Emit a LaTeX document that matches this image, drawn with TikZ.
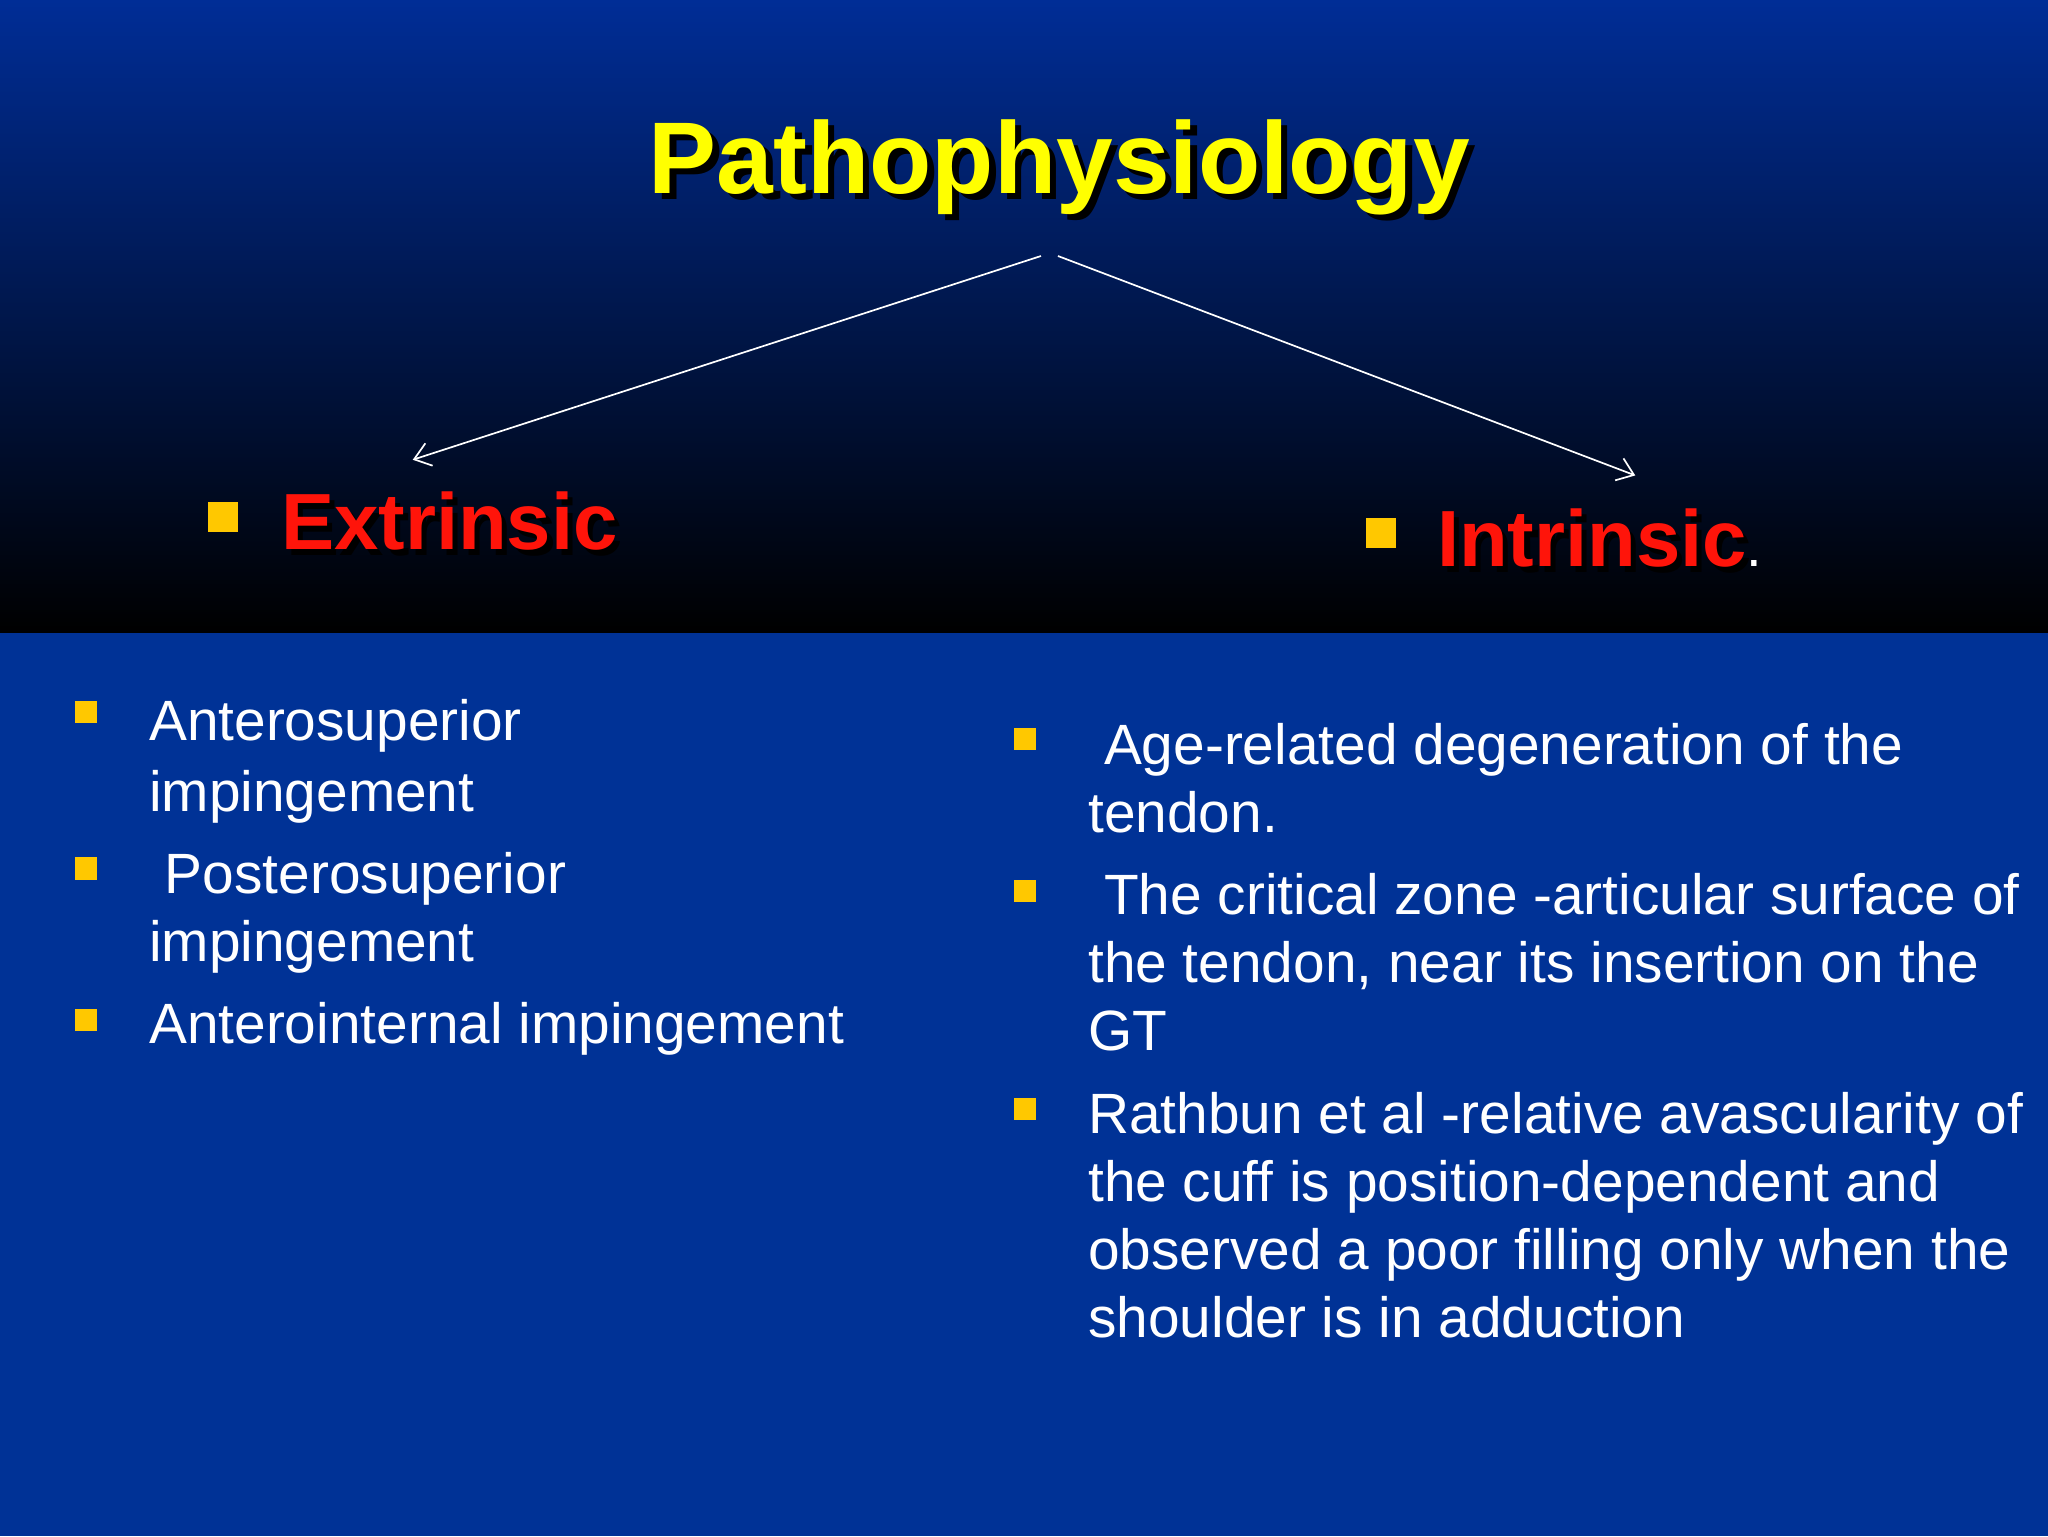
\documentclass[tikz,border=0pt]{standalone}
\usepackage{fontspec}
\setmainfont{Liberation Sans}
\usetikzlibrary{arrows.meta}
\definecolor{topblue}{RGB}{0,45,150}
\definecolor{botblue}{RGB}{0,50,150}
\definecolor{bul}{RGB}{255,200,0}
\definecolor{ttl}{RGB}{255,255,0}
\definecolor{hd}{RGB}{255,20,10}
\begin{document}
\begin{tikzpicture}[x=1pt,y=-1pt,
  body/.style={anchor=base west,text=white,font=\fontsize{43.5}{50}\selectfont,inner sep=0},
  bsq/.style={fill=bul,minimum size=17,inner sep=0},
  bsqb/.style={fill=bul,minimum size=23,inner sep=0},
  head/.style={anchor=base west,inner sep=0,font=\bfseries\fontsize{61}{66}\selectfont},
  arr/.style={white,line width=1.3pt,-{Straight Barb[length=12pt,width=18pt]}}]
\useasboundingbox (0,0) rectangle (1568,1176);
\fill[botblue] (0,0) rectangle (1568,1176);
\shade[top color=topblue,bottom color=black] (0,0) rectangle (1568,484);
\node[text=black,font=\bfseries\fontsize{78}{90}\selectfont,inner sep=0] (ts) at (816,133) {Pathophysiology};
\node[text=ttl,font=\bfseries\fontsize{78}{90}\selectfont,inner sep=0] (title) at (811,128) {Pathophysiology};
\coordinate (al) at (797,196);
\coordinate (ar) at (810,196);
\node[bsqb] (b1) at (171,396) {};
\node[head,text=black] (exts) at (219,425) {Extrinsic};
\node[head,text=hd] (ext) at (215,421) {Extrinsic};
\node[bsqb] (b2) at (1057,408) {};
\node[head,text=black] (ints) at (1104,438) {Intrinsic};
\node[head,text=hd] (int) at (1100,434) {Intrinsic\textcolor{white}{\mdseries\fontsize{43}{43}\selectfont.}};
\coordinate (el) at (316,352);
\coordinate (er) at (1252,364);
\draw[arr] (al) -- (el);
\draw[arr] (ar) -- (er);
\node[bsq] at (66,545) {};
\node[body] at (114,567) {Anterosuperior};
\node[body] at (114,621) {impingement};
\node[bsq] at (66,665) {};
\node[body] at (114,684) {\ Posterosuperior};
\node[body] at (114,736) {impingement};
\node[bsq] at (66,781) {};
\node[body] at (114,799) {Anterointernal impingement};
\node[bsq] at (785,566) {};
\node[body] at (833,585) {\ Age-related degeneration of the};
\node[body] at (833,637) {tendon.};
\node[bsq] at (785,682) {};
\node[body] at (833,700) {\ The critical zone -articular surface of};
\node[body] at (833,752) {the tendon, near its insertion on the};
\node[body] at (833,804) {GT};
\node[bsq] at (785,849) {};
\node[body] at (833,868) {Rathbun et al -relative avascularity of};
\node[body] at (833,920) {the cuff is position-dependent and};
\node[body] at (833,972) {observed a poor filling only when the};
\node[body] at (833,1024) {shoulder is in adduction};
\end{tikzpicture}
\end{document}
